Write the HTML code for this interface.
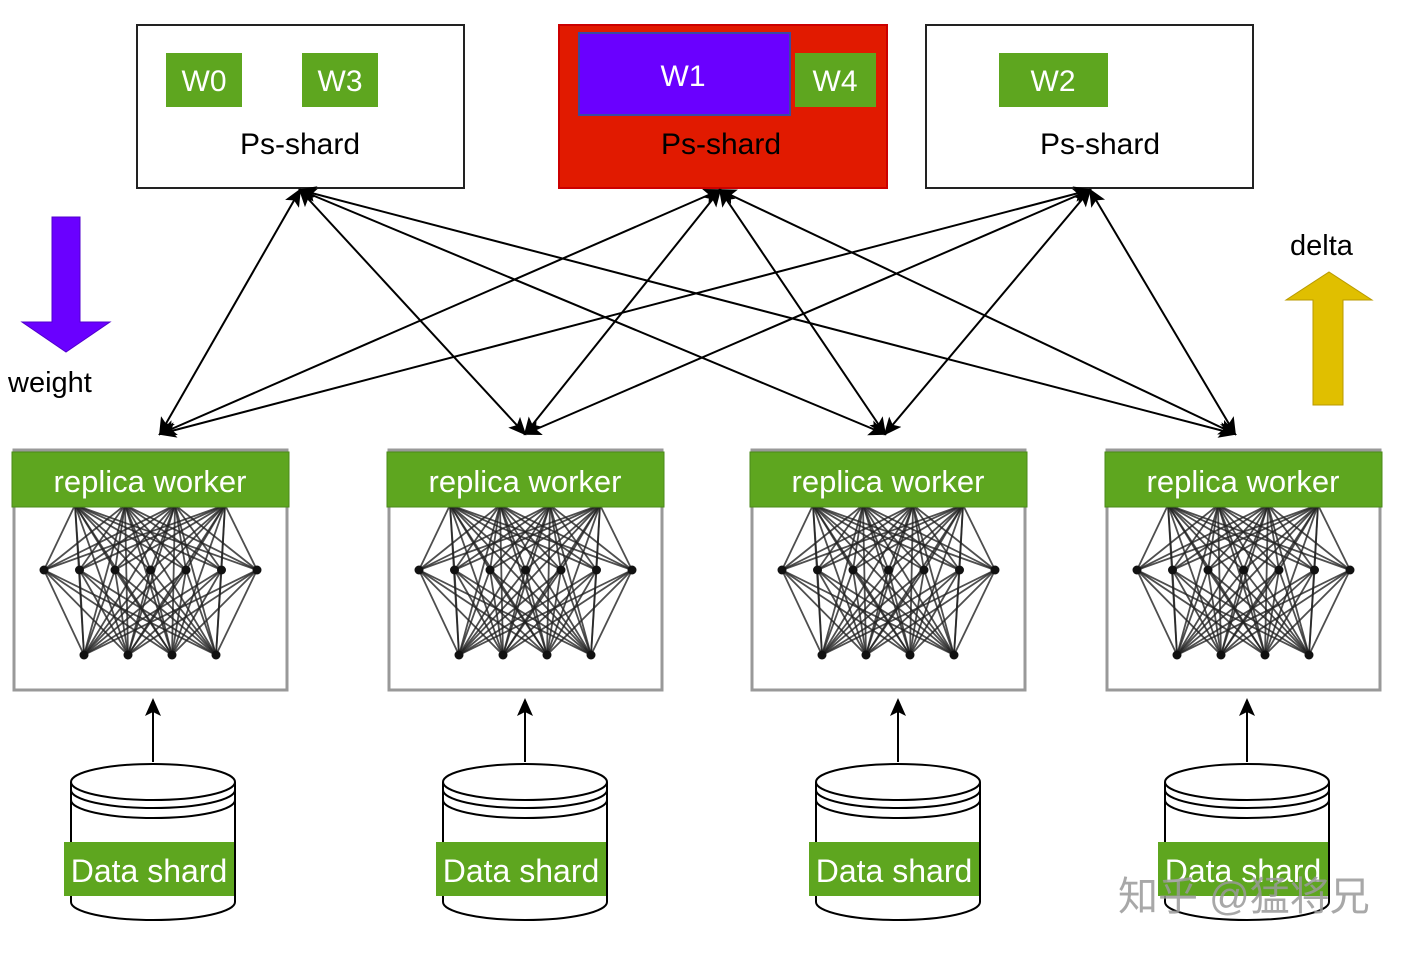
<!DOCTYPE html>
<html><head><meta charset="utf-8"><style>
body{margin:0;background:#fff;}
svg{display:block;font-family:"Liberation Sans",Arial,sans-serif;}
</style></head><body>
<svg id="s" width="1418" height="956" viewBox="0 0 1418 956">
<defs>
<marker id="ah" markerWidth="18" markerHeight="18" refX="16" refY="9" orient="auto-start-reverse" markerUnits="userSpaceOnUse"><path d="M0,1 L18,9 L0,17 L4,9 Z" fill="#000"/></marker>
</defs>
<rect x="137" y="25" width="327" height="163" fill="#fff" stroke="#222" stroke-width="2"/>
<rect x="166" y="53" width="76" height="54" fill="#5ea61f"/><text x="204" y="91" font-size="30" fill="#fff" text-anchor="middle">W0</text>
<rect x="302" y="53" width="76" height="54" fill="#5ea61f"/><text x="340" y="91" font-size="30" fill="#fff" text-anchor="middle">W3</text>
<text x="300" y="154" font-size="30" text-anchor="middle">Ps-shard</text>
<rect x="559" y="25" width="328" height="163" fill="#e11a00" stroke="#c00" stroke-width="2"/>
<rect x="579" y="33" width="211" height="82" fill="#6a00ff" stroke="#3a4aa0" stroke-width="2"/><text x="683" y="86" font-size="30" fill="#fff" text-anchor="middle">W1</text>
<rect x="795" y="53" width="81" height="54" fill="#5ea61f"/><text x="835" y="91" font-size="30" fill="#fff" text-anchor="middle">W4</text>
<text x="721" y="154" font-size="30" text-anchor="middle">Ps-shard</text>
<rect x="926" y="25" width="327" height="163" fill="#fff" stroke="#222" stroke-width="2"/>
<rect x="999" y="53" width="109" height="54" fill="#5ea61f"/><text x="1053" y="91" font-size="30" fill="#fff" text-anchor="middle">W2</text>
<text x="1100" y="154" font-size="30" text-anchor="middle">Ps-shard</text>
<g id="arrows" stroke="#000" stroke-width="2" fill="none"></g>
<path d="M52,217 H80 V322 H110 L66,352 L22,322 H52 Z" fill="#6a00ff" stroke="#5000cc"/>
<text x="8" y="392" font-size="29">weight</text>
<path d="M1313,405 H1343 V300 H1372 L1329,272 L1286,300 H1313 Z" fill="#e0bf00" stroke="#b89a00"/>
<text x="1290" y="255" font-size="29">delta</text>
<g id="workers"></g>
<text x="1118" y="910" font-size="40" fill="#999" fill-opacity="0.85" font-family="'Liberation Sans','Noto Sans CJK SC',sans-serif">知乎 @猛将兄</text>
</svg>
<script>
var NS="http://www.w3.org/2000/svg";
function el(p,t,a,txt){var e=document.createElementNS(NS,t);for(var k in a)e.setAttribute(k,a[k]);if(txt)e.textContent=txt;p.appendChild(e);return e;}
var tops=[[300,190],[720,190],[1090,190]],bots=[[160,434],[525,434],[885,434],[1235,434]];
var g=document.getElementById('arrows');
tops.forEach(function(t){bots.forEach(function(b){el(g,'line',{x1:t[0],y1:t[1],x2:b[0],y2:b[1],'marker-start':'url(#ah)','marker-end':'url(#ah)'});});});
var w=document.getElementById('workers');
var boxes=[14,389,752,1107],dx=[153,525,898,1247];
boxes.forEach(function(x,i){
 el(w,'rect',{x:x,y:450,width:273,height:240,fill:'#fff',stroke:'#999','stroke-width':3});
 var L=x+30,R=x+243,mid=x+136;
 var top=[],m=[],bot=[];
 for(var k=0;k<4;k++){top.push([mid-75+k*50,505]);bot.push([mid-66+k*44,655]);}
 for(var k=0;k<7;k++)m.push([L+k*(R-L)/6,570]);
 var gg=el(w,'g',{stroke:'#222','stroke-width':1.8,'stroke-opacity':0.8});
 top.forEach(function(a){m.forEach(function(b){el(gg,'line',{x1:a[0],y1:a[1],x2:b[0],y2:b[1]});});});
 m.forEach(function(a){bot.forEach(function(b){el(gg,'line',{x1:a[0],y1:a[1],x2:b[0],y2:b[1]});});});
 top.forEach(function(a){bot.forEach(function(b){el(gg,'line',{x1:a[0],y1:a[1],x2:b[0],y2:b[1]});});});
 m.concat(bot).forEach(function(p){el(w,'circle',{cx:p[0],cy:p[1],r:4.5,fill:'#111'});});
 el(w,'rect',{x:x-2,y:452,width:277,height:55,fill:'#5ea61f',stroke:'#4a8a18'});
 el(w,'text',{x:x+136,y:492,'font-size':31,fill:'#fff','text-anchor':'middle'},'replica worker');
 var c=dx[i];
 el(w,'line',{x1:c,y1:762,x2:c,y2:700,stroke:'#000','stroke-width':2,'marker-end':'url(#ah)'});
 var cl=c-82,cr=c+82;
 el(w,'path',{d:'M'+cl+',782 V902 A82,18 0 0 0 '+cr+',902 V782',fill:'#fff',stroke:'#000','stroke-width':2});
 el(w,'ellipse',{cx:c,cy:782,rx:82,ry:18,fill:'#fff',stroke:'#000','stroke-width':2});
 el(w,'path',{d:'M'+cl+',790 A82,18 0 0 0 '+cr+',790 M'+cl+',800 A82,18 0 0 0 '+cr+',800',fill:'none',stroke:'#000','stroke-width':2});
 el(w,'rect',{x:c-89,y:842,width:170,height:54,fill:'#5ea61f'});
 el(w,'text',{x:c-4,y:882,'font-size':32,fill:'#fff','text-anchor':'middle'},'Data shard');
});
</script>
</body></html>
